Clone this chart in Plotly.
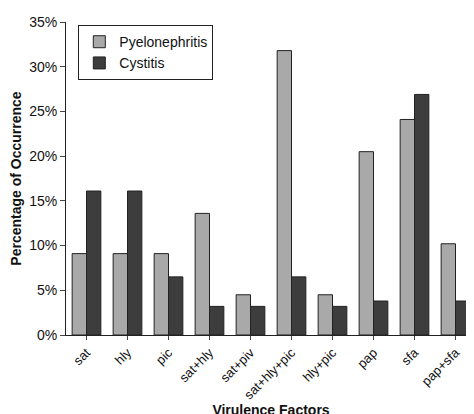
import plotly.graph_objects as go

categories = ["sat", "hly", "pic", "sat+hly", "sat+piv", "sat+hly+pic", "hly+pic", "pap", "sfa", "pap+sfa"]
pyelo = [9.1, 9.1, 9.1, 13.6, 4.5, 31.8, 4.5, 20.5, 24.1, 10.2]
cyst = [16.1, 16.1, 6.5, 3.2, 3.2, 6.5, 3.2, 3.8, 26.9, 3.8]

fig = go.Figure()
fig.add_bar(x=categories, y=pyelo, name="Pyelonephritis", marker=dict(color="#a9a9a9", line=dict(color="#222", width=1)))
fig.add_bar(x=categories, y=cyst, name="Cystitis", marker=dict(color="#3d3d3d", line=dict(color="#222", width=1)))
fig.update_layout(
    width=474, height=414, margin=dict(l=58, r=6, t=10, b=87),
    paper_bgcolor="white", plot_bgcolor="white",
    bargap=0.3, bargroupgap=0.0,
    font=dict(family="Liberation Sans, Arial", size=14, color="#111"),
    legend=dict(x=0.03, y=0.99, bgcolor="white", bordercolor="#222", borderwidth=1, font=dict(size=14)),
    xaxis=dict(title=dict(text="<b>Virulence Factors</b>", font=dict(size=14), standoff=0), tickangle=-45,
               showline=True, linecolor="#222", ticks="outside", ticklen=4, tickfont=dict(size=13)),
    yaxis=dict(title=dict(text="<b>Percentage of Occurrence</b>", font=dict(size=14), standoff=4), range=[0, 35], dtick=5,
               ticksuffix="%", showline=True, linecolor="#222", ticks="outside", showgrid=False, tickfont=dict(size=14)),
)
fig.write_html("out.html")
